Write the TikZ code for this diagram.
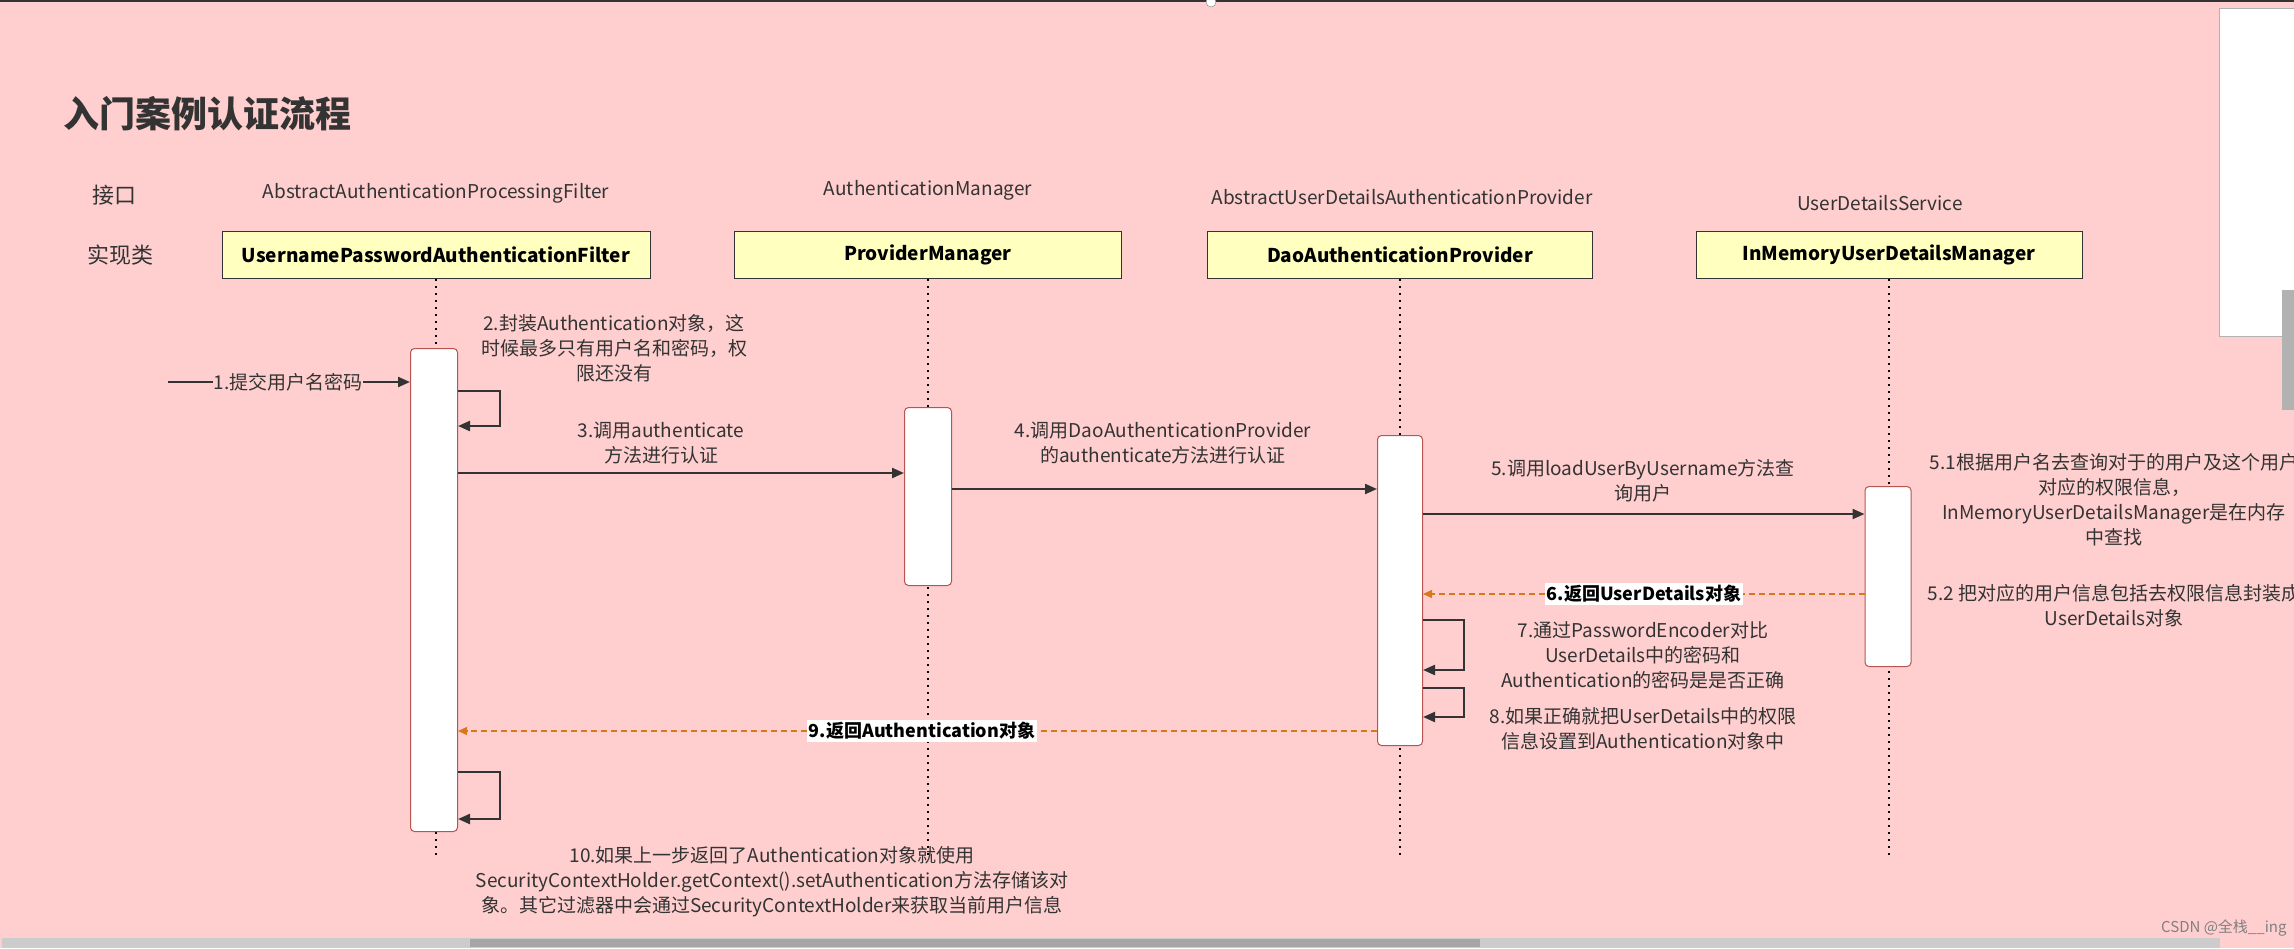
\documentclass[tikz,border=0pt]{standalone}
\usepackage{fontspec}
\setmainfont{Noto Sans CJK SC}
\usetikzlibrary{arrows.meta}
\definecolor{bg}{HTML}{FFCFCF}
\definecolor{ybox}{HTML}{FFFFC0}
\definecolor{act}{HTML}{B85450}
\definecolor{ret}{HTML}{D9781A}
\definecolor{ink}{HTML}{333333}
\begin{document}
\begin{tikzpicture}[x=1pt,y=-1pt,
  txt/.style={font=\fontsize{19}{25}\selectfont,text=ink,align=center,inner sep=1pt},
  cls/.style={draw=ink,fill=ybox,line width=1pt,minimum height=47pt,font=\fontsize{19}{22}\selectfont\bfseries,text=black},
  life/.style={line width=2pt,dash pattern=on 2pt off 5pt,draw=black},
  actv/.style={draw=act,fill=white,rounded corners=4pt,line width=1pt},
  msg/.style={draw=ink,line width=2.2pt,-{Triangle[length=12pt,width=10pt]}},
  rmsg/.style={draw=ret,line width=1.2pt,dash pattern=on 6pt off 4pt,-{Triangle[length=9pt,width=8pt]}},
  lbl/.style={fill=white,font=\fontsize{18}{22}\selectfont\bfseries,text=black,inner sep=2pt}]
\useasboundingbox (0,0) rectangle (2294,948);
\fill[bg] (0,0) rectangle (2294,948);
\draw[ink,line width=2pt] (0,1) -- (2294,1);
\draw[fill=white,draw=gray] (1211,2) circle (5pt);
\node[anchor=west,font=\fontsize{36}{40}\selectfont\bfseries,text=ink] (title) at (60,114) {入门案例认证流程};
\node[txt,font=\fontsize{22}{24}\selectfont] (jk) at (114,195) {接口};
\node[txt,font=\fontsize{22}{24}\selectfont] (sx) at (120,255) {实现类};
\node[txt] (i1) at (436,193) {AbstractAuthenticationProcessingFilter};
\node[txt] (i2) at (928,190) {AuthenticationManager};
\node[txt] (i3) at (1402,197) {AbstractUserDetailsAuthenticationProvider};
\node[txt] (i4) at (1880,203) {UserDetailsService};
\node[cls,minimum width=428pt] (c1) at (436,255) {UsernamePasswordAuthenticationFilter};
\node[cls,minimum width=387pt] (c2) at (928,255) {ProviderManager};
\node[cls,minimum width=385pt] (c3) at (1400,255) {DaoAuthenticationProvider};
\node[cls,minimum width=386pt] (c4) at (1889,255) {InMemoryUserDetailsManager};
\coordinate (e1) at (436,856); \coordinate (e2) at (928,856);
\coordinate (e3) at (1400,856); \coordinate (e4) at (1889,856);
\draw[life] (c1.south) -- (e1); \draw[life] (c2.south) -- (e2);
\draw[life] (c3.south) -- (e3); \draw[life] (c4.south) -- (e4);
\node[actv,minimum width=47pt,minimum height=483pt,anchor=north] (a1) at (434,348) {};
\node[actv,minimum width=47pt,minimum height=178pt,anchor=north] (a2) at (928,407) {};
\node[actv,minimum width=45pt,minimum height=310pt,anchor=north] (a3) at (1400,435) {};
\node[actv,minimum width=46pt,minimum height=180pt,anchor=north] (a4) at (1888,486) {};
% 1
\coordinate (s1) at (168,382);
\draw[msg] (s1) -- (a1.west |- s1);
\node[txt,fill=bg] (l1) at (288,382) {1.提交用户名密码};
% 2
\coordinate (p2a) at (500,391); \coordinate (p2b) at (500,426);
\draw[msg] (a1.east |- p2a) -- (p2a) -- (p2b) -- (a1.east |- p2b);
\node[txt] (l2) at (614,348) {2.封装Authentication对象，这\\时候最多只有用户名和密码，权\\限还没有};
% 3
\coordinate (y3) at (0,473);
\draw[msg] (a1.east |- y3) -- (a2.west |- y3);
\node[txt] (l3) at (661,443) {3.调用authenticate\\方法进行认证};
% 4
\coordinate (y4) at (0,489);
\draw[msg] (a2.east |- y4) -- (a3.west |- y4);
\node[txt] (l4) at (1163,443) {4.调用DaoAuthenticationProvider\\的authenticate方法进行认证};
% 5
\coordinate (y5) at (0,514);
\draw[msg] (a3.east |- y5) -- (a4.west |- y5);
\node[txt] (l5) at (1643,481) {5.调用loadUserByUsername方法查\\询用户};
\begin{scope}
\clip (1900,400) rectangle (2294,660);
\node[txt] (l51) at (2114,500) {5.1根据用户名去查询对于的用户及这个用户\\对应的权限信息，\\InMemoryUserDetailsManager是在内存\\中查找};
\node[txt] (l52) at (2114,606) {5.2 把对应的用户信息包括去权限信息封装成\\UserDetails对象};
\end{scope}
% 6
\coordinate (y6) at (0,594);
\draw[rmsg] (a4.west |- y6) -- (a3.east |- y6);
\node[lbl] (l6) at (1644,594) {6.返回UserDetails对象};
% 7
\coordinate (p7a) at (1464,620); \coordinate (p7b) at (1464,670);
\draw[msg] (a3.east |- p7a) -- (p7a) -- (p7b) -- (a3.east |- p7b);
\node[txt] (l7) at (1643,655) {7.通过PasswordEncoder对比\\UserDetails中的密码和\\Authentication的密码是是否正确};
% 8
\coordinate (p8a) at (1464,688); \coordinate (p8b) at (1464,717);
\draw[msg] (a3.east |- p8a) -- (p8a) -- (p8b) -- (a3.east |- p8b);
\node[txt] (l8) at (1643,729) {8.如果正确就把UserDetails中的权限\\信息设置到Authentication对象中};
% 9
\coordinate (y9) at (0,731);
\draw[rmsg] (a3.west |- y9) -- (a1.east |- y9);
\node[lbl] (l9) at (922,731) {9.返回Authentication对象};
% 10
\coordinate (p10a) at (500,772); \coordinate (p10b) at (500,819);
\draw[msg] (a1.east |- p10a) -- (p10a) -- (p10b) -- (a1.east |- p10b);
\node[txt] (l10) at (772,882) {10.如果上一步返回了Authentication对象就使用\\SecurityContextHolder.getContext().setAuthentication方法存储该对\\象。其它过滤器中会通过SecurityContextHolder来获取当前用户信息};
% UI chrome
\fill[white,draw=gray!60] (2219,8) rectangle (2294,336);
\fill[gray!60] (2282,290) rectangle (2294,410);
\fill[gray!40] (2,938) rectangle (2220,948);
\fill[gray!70] (470,939) rectangle (1480,947);
\node[anchor=east,font=\fontsize{15}{16}\selectfont,text=gray] (wm) at (2290,928) {CSDN @全栈\_\_ing};
\end{tikzpicture}
\end{document}
